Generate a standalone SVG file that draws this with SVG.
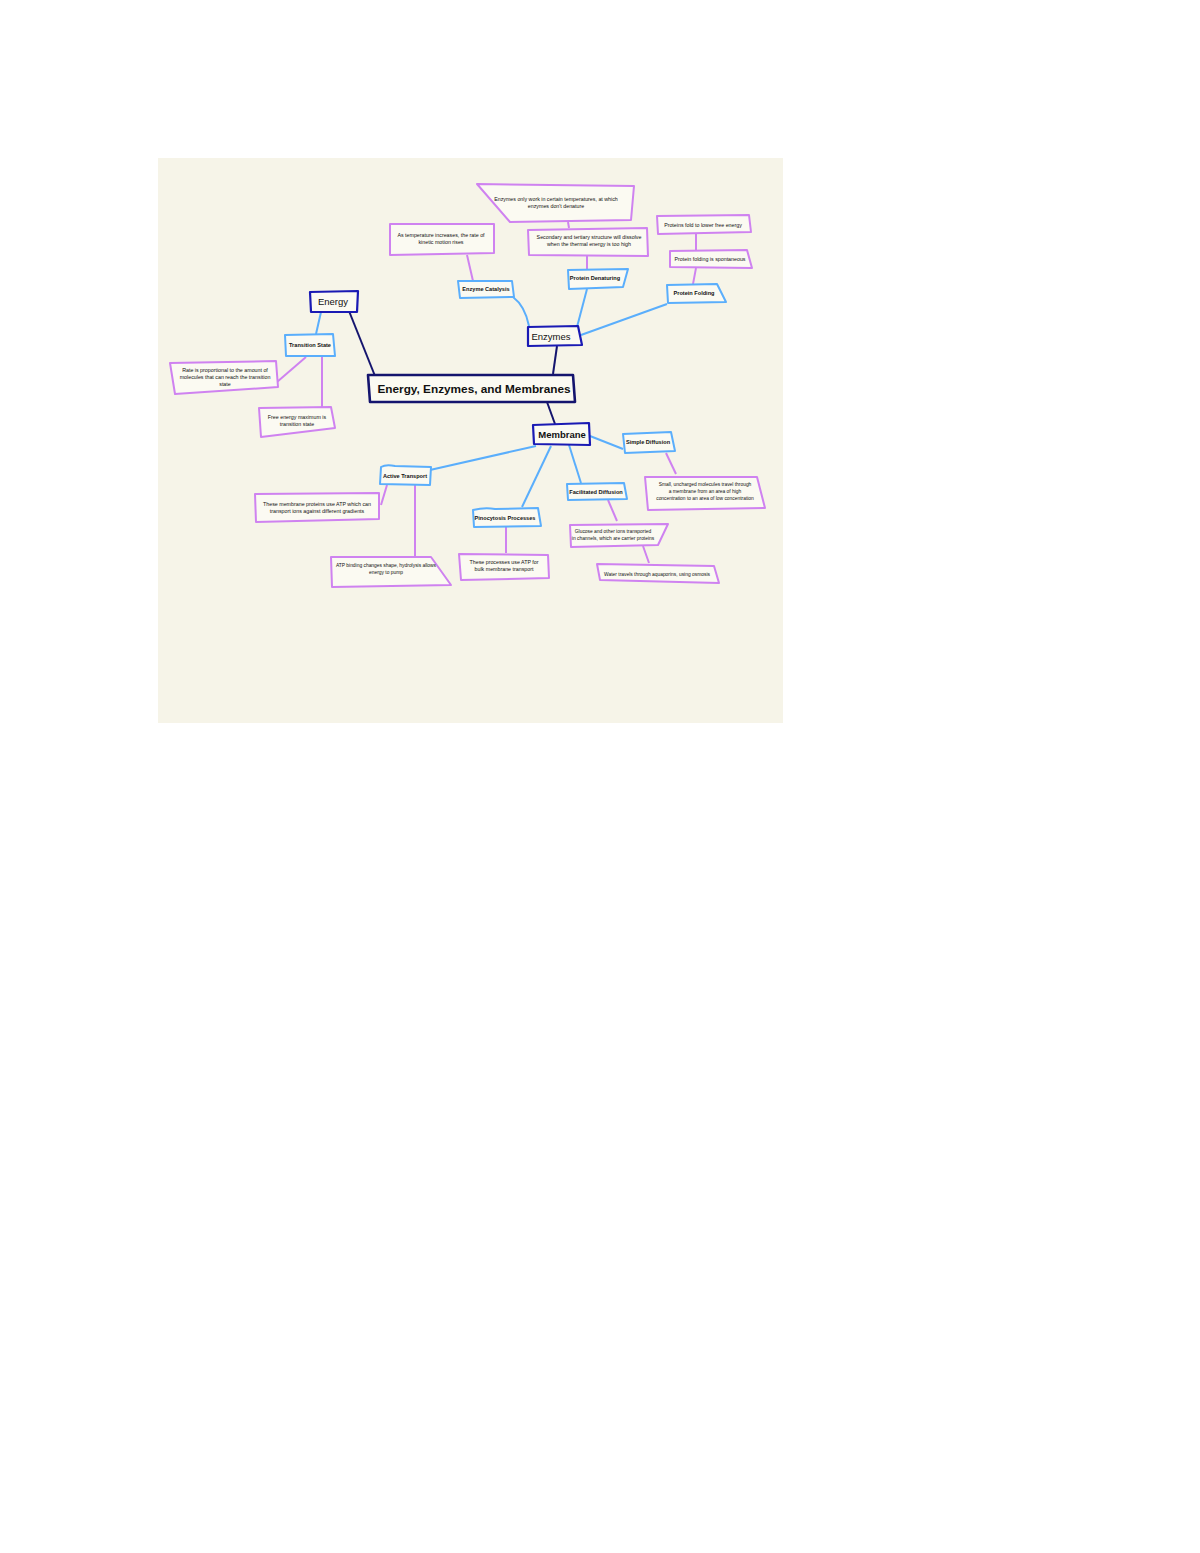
<svg xmlns="http://www.w3.org/2000/svg" width="1200" height="1553" viewBox="0 0 1200 1553">
<style>
.bg{fill:#f6f4e8}
.main{fill:#fbfaf2;stroke:#14146e;stroke-width:2.6;stroke-linejoin:round}
.top{fill:#fbfaf2;stroke:#1a1ab4;stroke-width:2.2;stroke-linejoin:round}
.sub{fill:#fbfaf2;stroke:#5aaefc;stroke-width:2;stroke-linejoin:round}
.leaf{fill:#fbfaf2;stroke:#cf82f0;stroke-width:2;stroke-linejoin:round}
.cm{stroke:#14146e;stroke-width:2;fill:none}
.cs{stroke:#5aaefc;stroke-width:2;fill:none}
.cl{stroke:#cf82f0;stroke-width:2;fill:none}
text{font-family:"Liberation Sans",Arial,sans-serif;fill:#111;text-anchor:middle}
.t1{font-size:11.8px;font-weight:bold}
.t2{font-size:9.5px}
.t3{font-size:5.6px;font-weight:bold}
.t4{font-size:5.3px}
.t5{font-size:4.9px}
</style>
<rect width="1200" height="1553" fill="#ffffff"/>
<rect class="bg" x="158" y="158" width="625" height="565"/>
<g id="connectors">
<path class="cm" d="M375,376 L349,311"/>
<path class="cm" d="M553,374 L557,346"/>
<path class="cm" d="M547,402 L555,424"/>
<path class="cs" d="M321,312 L316,334"/>
<path class="cl" d="M306,357 L277,382"/>
<path class="cl" d="M322,357 L322,408"/>
<path class="cs" d="M513,297 Q525,306 529,326"/>
<path class="cs" d="M577,327 L587,289"/>
<path class="cs" d="M581,335 L667,304"/>
<path class="cl" d="M473,281 L467,255"/>
<path class="cl" d="M587,269 L587,256"/>
<path class="cl" d="M569,228 L568,222"/>
<path class="cl" d="M693,284 L696,268"/>
<path class="cl" d="M696,250 L696,234"/>
<path class="cs" d="M590,436 L623,449"/>
<path class="cl" d="M666,453 L676,474"/>
<path class="cs" d="M569,445 L581,483"/>
<path class="cl" d="M608,500 L617,521"/>
<path class="cl" d="M643,546 L649,563"/>
<path class="cs" d="M536,446 L430,470"/>
<path class="cs" d="M551,446 L522,507"/>
<path class="cl" d="M387,485 L381,505"/>
<path class="cl" d="M415,485 L415,557"/>
<path class="cl" d="M506,527 L506,553"/>
</g>
<g id="n-main">
<path class="main" d="M368,375 L573,375 L575,402 L370,402 Z"/>
<text class="t1" x="474" y="393">Energy, Enzymes, and Membranes</text>
</g>
<g id="n-energy">
<path class="top" d="M310,292 L358,291 L357,312 L311,312 Z"/>
<text class="t2" x="333" y="305">Energy</text>
</g>
<g id="n-enzymes">
<path class="top" d="M528,327 L578,326 L582,345 L528,346 Z"/>
<text class="t2" x="551" y="340">Enzymes</text>
</g>
<g id="n-membrane">
<path class="top" d="M533,425 L589,423 L590,445 L534,444 Z"/>
<text class="t2" x="562" y="438" font-weight="bold">Membrane</text>
</g>
<g id="n-transition">
<path class="sub" d="M285,335 L333,334 L335,356 L286,356 Z"/>
<text class="t3" x="310" y="347">Transition State</text>
</g>
<g id="n-rate">
<path class="leaf" d="M170,363 L276,361 L278,387 L175,394 Z"/>
<text class="t4" x="225" y="372">Rate is proportional to the amount of</text>
<text class="t4" x="225" y="379">molecules that can reach the transition</text>
<text class="t4" x="225" y="386">state</text>
</g>
<g id="n-free">
<path class="leaf" d="M259,408 L331,407 L335,428 L261,437 Z"/>
<text class="t4" x="297" y="419">Free energy maximum is</text>
<text class="t4" x="297" y="426">transition state</text>
</g>
<g id="n-catalysis">
<path class="sub" d="M458,281 L512,281 L514,297 L460,298 Z"/>
<text class="t3" x="486" y="291">Enzyme Catalysis</text>
</g>
<g id="n-temp">
<path class="leaf" d="M390,224 L494,224 L494,253 L390,255 Z"/>
<text class="t4" x="441" y="237">As temperature increases, the rate of</text>
<text class="t4" x="441" y="244">kinetic motion rises</text>
</g>
<g id="n-denaturing">
<path class="sub" d="M568,270 L628,269 L623,287 L569,289 Z"/>
<text class="t3" x="595" y="280">Protein Denaturing</text>
</g>
<g id="n-secondary">
<path class="leaf" d="M528,230 L647,228 L648,256 L529,255 Z"/>
<text class="t4" x="589" y="239">Secondary and tertiary structure will dissolve</text>
<text class="t4" x="589" y="246">when the thermal energy is too high</text>
</g>
<g id="n-enzymetemp">
<path class="leaf" d="M477,184 L634,186 L631,220 L510,222 Z"/>
<text class="t4" x="556" y="201">Enzymes only work in certain temperatures, at which</text>
<text class="t4" x="556" y="208">enzymes don't denature</text>
</g>
<g id="n-folding">
<path class="sub" d="M667,285 L717,284 L726,302 L668,303 Z"/>
<text class="t3" x="694" y="295">Protein Folding</text>
</g>
<g id="n-spontaneous">
<path class="leaf" d="M670,251 L747,250 L752,268 L670,267 Z"/>
<text class="t4" x="710" y="261">Protein folding is spontaneous</text>
</g>
<g id="n-lowerfree">
<path class="leaf" d="M657,216 L749,215 L751,232 L658,234 Z"/>
<text class="t4" x="703" y="227">Proteins fold to lower free energy</text>
</g>
<g id="n-simple">
<path class="sub" d="M623,434 L671,432 L675,451 L625,453 Z"/>
<text class="t3" x="648" y="444">Simple Diffusion</text>
</g>
<g id="n-small">
<path class="leaf" d="M645,477 L757,477 L765,508 L648,510 Z"/>
<text class="t5" x="705" y="486">Small, uncharged molecules travel through</text>
<text class="t5" x="705" y="493">a membrane from an area of high</text>
<text class="t5" x="705" y="500">concentration to an area of low concentration</text>
</g>
<g id="n-facilitated">
<path class="sub" d="M567,484 L624,483 L627,499 L568,500 Z"/>
<text class="t3" x="596" y="494">Facilitated Diffusion</text>
</g>
<g id="n-glucose">
<path class="leaf" d="M570,525 L668,524 L658,545 L571,547 Z"/>
<text class="t5" x="613" y="533">Glucose and other ions transported</text>
<text class="t5" x="613" y="540">in channels, which are carrier proteins</text>
</g>
<g id="n-water">
<path class="leaf" d="M597,564 L714,566 L719,583 L600,580 Z"/>
<text class="t5" x="657" y="576">Water travels through aquaporins, using osmosis</text>
</g>
<g id="n-active">
<path class="sub" d="M381,467 Q386,464 395,466 L431,467 L430,485 L380,484 Z"/>
<text class="t3" x="405" y="478">Active Transport</text>
</g>
<g id="n-transmembrane">
<path class="leaf" d="M255,494 L379,493 L379,519 L256,522 Z"/>
<text class="t4" x="317" y="506">These membrane proteins use ATP which can</text>
<text class="t4" x="317" y="513">transport ions against different gradients</text>
</g>
<g id="n-atp">
<path class="leaf" d="M331,557 L431,557 L451,585 L332,587 Z"/>
<text class="t5" x="386" y="567">ATP binding changes shape, hydrolysis allows</text>
<text class="t5" x="386" y="574">energy to pump</text>
</g>
<g id="n-pinocytosis">
<path class="sub" d="M473,510 Q485,507 495,509 L538,508 L541,526 L474,527 Z"/>
<text class="t3" x="505" y="520">Pinocytosis Processes</text>
</g>
<g id="n-pinodesc">
<path class="leaf" d="M459,554 L548,555 L549,578 L461,580 Z"/>
<text class="t4" x="504" y="564">These processes use ATP for</text>
<text class="t4" x="504" y="571">bulk membrane transport</text>
</g>
</svg>
